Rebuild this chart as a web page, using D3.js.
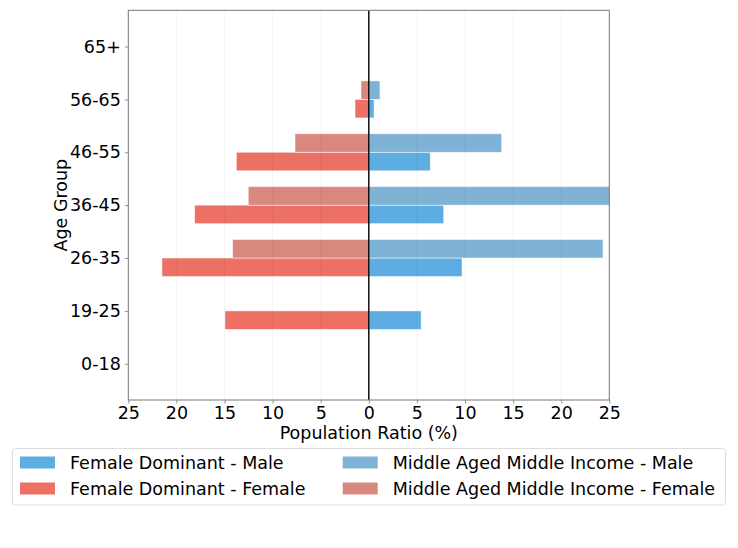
<!DOCTYPE html>
<html>
<head>
<meta charset="utf-8">
<script src="https://cdn.jsdelivr.net/npm/d3@7"></script>
<style>
body { margin: 0; background: #fff; }
svg text { font-family: "DejaVu Sans", sans-serif; fill: #000; }
</style>
</head>
<body>
<div class="pyramid"></div>
<script>
var width = 738,
height = 548,
plotLeft = 128.3,
plotRight = 609.3,
plotTop = 10.3,
plotBottom = 400,
limit = 25,
fontSize = "17.5px";

// age groups, bottom to top
var ageGroups = ["0-18", "19-25", "26-35", "36-45", "46-55", "56-65", "65+"];
var xTicks = [-25, -20, -15, -10, -5, 0, 5, 10, 15, 20, 25];

// population ratio (%) per age group
var fdMale = [0, 5.44, 9.69, 7.79, 6.39, 0.54, 0];
var fdFemale = [0, 14.95, 21.5, 18.1, 13.77, 1.43, 0];
var maMale = [0, 0, 24.35, 25.5, 13.81, 1.16, 0];
var maFemale = [0, 0, 14.15, 12.53, 7.67, 0.81, 0];

var series = [
	{ name: "Female Dominant - Male", values: fdMale, sign: 1, offset: -1, color: "#5DADE2" },
	{ name: "Female Dominant - Female", values: fdFemale, sign: -1, offset: -1, color: "#EC7063" },
	{ name: "Middle Aged Middle Income - Male", values: maMale, sign: 1, offset: 1, color: "#7FB3D5" },
	{ name: "Middle Aged Middle Income - Female", values: maFemale, sign: -1, offset: 1, color: "#D98880" }
];

var barH = 0.35;

var svg = d3.select('div.pyramid')
			.append('svg')
			.attr('width', width)
			.attr('height', height);

var x = d3.scaleLinear()
			.domain([-limit, limit])
			.range([plotLeft, plotRight]);

var y = d3.scaleLinear()
			.domain([-0.685, 6.685])
			.range([plotBottom, plotTop]);

svg.append("defs").append("clipPath")
	.attr("id", "plotClip")
	.append("rect")
	.attr("x", plotLeft).attr("y", plotTop)
	.attr("width", plotRight - plotLeft).attr("height", plotBottom - plotTop);

/*
========== bars ==========
*/
var plot = svg.append("g").attr("clip-path", "url(#plotClip)");

series.forEach(function(s){
	plot.append("g")
		.selectAll("rect")
		.data(s.values)
		.enter()
		.append("rect")
		.attr("x", function(d){ return s.sign > 0 ? x(0) : x(-d); })
		.attr("width", function(d){ return Math.abs(x(d) - x(0)); })
		.attr("y", function(d, i){ return s.offset > 0 ? y(i + barH) : y(i); })
		.attr("height", y(0) - y(barH))
		.attr("fill", function(d){ return d > 0 ? s.color : "none"; })
		.attr("stroke", function(d){ return d > 0 ? "#fff" : "none"; })
		.attr("stroke-opacity", 0.6)
		.attr("stroke-width", 0.8);
});

// faint grid drawn over the bars
plot.append("g")
	.selectAll("line")
	.data(xTicks)
	.enter()
	.append("line")
	.attr("x1", function(d){ return x(d); })
	.attr("x2", function(d){ return x(d); })
	.attr("y1", plotTop).attr("y2", plotBottom)
	.attr("stroke", "#000")
	.attr("stroke-opacity", 0.06)
	.attr("stroke-width", 0.8);

// zero line
svg.append("line")
	.attr("x1", x(0)).attr("x2", x(0))
	.attr("y1", plotTop).attr("y2", plotBottom)
	.attr("stroke", "#000")
	.attr("stroke-width", 1.4);

/*
========== axes ==========
*/
svg.append("g")
	.attr("transform", "translate(0," + plotBottom + ")")
	.call(d3.axisBottom(x)
			.tickValues(xTicks)
			.tickSize(3.5)
			.tickPadding(3)
			.tickFormat(function(d){ return Math.abs(d); }));

svg.append("g")
	.attr("transform", "translate(" + plotLeft + ",0)")
	.call(d3.axisLeft(y)
			.tickValues(d3.range(ageGroups.length))
			.tickSize(3.5)
			.tickPadding(4)
			.tickFormat(function(d){ return ageGroups[d]; }));

svg.selectAll(".domain").remove();
svg.selectAll(".tick line").attr("stroke", "#777").attr("stroke-width", 0.8);
svg.selectAll(".tick text")
	.style("font-family", "DejaVu Sans")
	.style("font-size", fontSize)
	.attr("fill", "#000");

// frame
svg.append("rect")
	.attr("x", plotLeft).attr("y", plotTop)
	.attr("width", plotRight - plotLeft).attr("height", plotBottom - plotTop)
	.attr("fill", "none")
	.attr("stroke", "#777")
	.attr("stroke-width", 1);

svg.append("text")
	.attr("x", (plotLeft + plotRight) / 2)
	.attr("y", 439)
	.attr("text-anchor", "middle")
	.style("font-size", fontSize)
	.text("Population Ratio (%)");

svg.append("text")
	.attr("transform", "translate(67," + ((plotTop + plotBottom) / 2) + ") rotate(-90)")
	.attr("text-anchor", "middle")
	.style("font-size", fontSize)
	.text("Age Group");

/*
========== legend ==========
*/
var legend = svg.append("g");

legend.append("rect")
	.attr("x", 12.5).attr("y", 448.5)
	.attr("width", 713).attr("height", 56.5)
	.attr("rx", 3)
	.attr("fill", "#fff")
	.attr("stroke", "#ddd")
	.attr("stroke-width", 1);

var colX = [20, 342.7],
rowY = [462.5, 488.5];

series.forEach(function(s, i){
	var col = Math.floor(i / 2), row = i % 2;
	legend.append("rect")
		.attr("x", colX[col]).attr("y", rowY[row] - 6)
		.attr("width", 35).attr("height", 12)
		.attr("fill", s.color);
	legend.append("text")
		.attr("x", colX[col] + 50)
		.attr("y", rowY[row])
		.attr("dy", "0.35em")
		.style("font-size", fontSize)
		.text(s.name);
});
</script>
</body>
</html>
